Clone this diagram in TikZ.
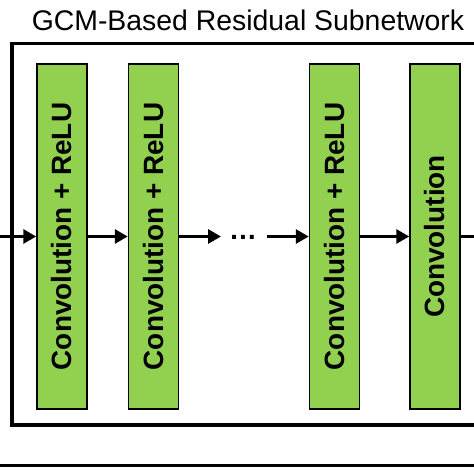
\documentclass[tikz,border=0pt]{standalone}
\usepackage{fontspec}
\setmainfont{Liberation Sans}
\usetikzlibrary{arrows.meta}
\definecolor{blockgreen}{HTML}{92D050}

\begin{document}
\begin{tikzpicture}
      [x=1bp, y=1bp,
      block/.style={draw, line width=1.5bp, fill=blockgreen, minimum width=50bp,
        minimum height=345bp, inner sep=0pt},
      blocktext/.style={rotate=90, font=\fontsize{28}{30}\selectfont\bfseries},
      flow/.style={line width=3bp, -{Triangle[length=13bp,width=14bp]}}]

      \useasboundingbox (0,0) rectangle (474,474);
      \clip (0,0) rectangle (474,474);

      \node (title) at (248,454) {\fontsize{28.5}{30}\selectfont GCM-Based Residual Subnetwork};
      \draw[line width=3.5bp] (490,430.5) -- (12,430.5) -- (12,49) -- (490,49);
      \draw[line width=3bp] (-10,8.5) -- (490,8.5);

      \node[block] (conv1) at (62,237.5) {};
      \node[blocktext] at (conv1) {Convolution + ReLU};
      \node[block] (conv2) at (153.5,237.5) {};
      \node[blocktext] at (conv2) {Convolution + ReLU};
      \node[block] (conv3) at (334.5,237.5) {};
      \node[blocktext] at (conv3) {Convolution + ReLU};
      \node[block] (conv4) at (435,237.5) {};
      \node[blocktext] at (conv4) {Convolution};

      \node[anchor=base, font=\fontsize{28}{30}\selectfont\bfseries] (dots) at (243,234) {…};

      \coordinate (in) at (-5,237.5);
      \coordinate (mid1) at (221,237.5);
      \coordinate (mid2) at (267,237.5);
      \coordinate (out) at (485,237.5);

      \draw[flow] (in) -- (conv1);
      \draw[flow] (conv1) -- (conv2);
      \draw[flow] (conv2) -- (mid1);
      \draw[flow] (mid2) -- (conv3);
      \draw[flow] (conv3) -- (conv4);
      \draw[line width=3bp] (conv4) -- (out);
    \end{tikzpicture}
\end{document}
